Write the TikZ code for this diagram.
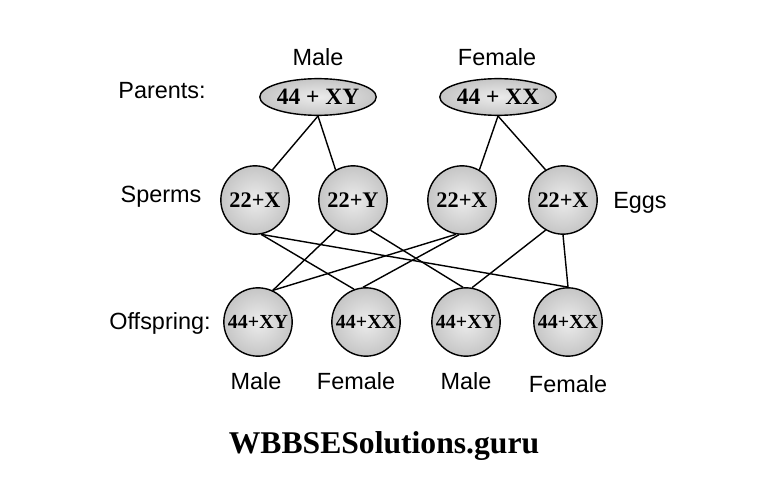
\documentclass[tikz,border=0pt]{standalone}
\usepackage{fontspec}
\setmainfont{Liberation Serif}
\setsansfont{Liberation Sans}
\usetikzlibrary{shapes.geometric}
\tikzset{
  cell/.style={circle,draw,very thick,minimum size=2.05cm,inner sep=0pt,
    inner color=gray!15,outer color=gray!45,font=\bfseries\fontsize{19}{19}\selectfont},
  parent/.style={ellipse,draw,very thick,minimum width=3.3cm,minimum height=1.1cm,inner sep=0pt,
    inner color=gray!15,outer color=gray!45,font=\bfseries\fontsize{20}{20}\selectfont},
  lab/.style={font=\sffamily\fontsize{20}{20}\selectfont},
  link/.style={line width=1.2pt}
}
\begin{document}
\begin{tikzpicture}[x=0.03cm,y=-0.03cm]
\useasboundingbox (0,0) rectangle (768,484);
% parents
\node[parent] (pm) at (318,97) {44 + XY};
\node[parent,minimum width=3.4cm] (pf) at (498,97) {44 + XX};
\node[lab] (tm) at (318,57) {Male};
\node[lab] (tf) at (497,57) {Female};
\node[lab] (tp) at (162,91) {Parents:};
% gametes
\node[cell] (s1) at (255,200) {22+X};
\node[cell] (s2) at (353,200) {22+Y};
\node[cell] (e1) at (462,200) {22+X};
\node[cell] (e2) at (563,200) {22+X};
\node[lab] (ts) at (161,197) {Sperms};
\node[lab] (te) at (640,203) {Eggs};
% offspring
\node[cell,font=\bfseries\fontsize{17}{17}\selectfont] (o1) at (258,322) {44+XY};
\node[cell,font=\bfseries\fontsize{17}{17}\selectfont] (o2) at (366,322) {44+XX};
\node[cell,font=\bfseries\fontsize{17}{17}\selectfont] (o3) at (466,322) {44+XY};
\node[cell,font=\bfseries\fontsize{17}{17}\selectfont] (o4) at (568,322) {44+XX};
\node[lab] (to) at (160,323) {Offspring:};
\node[lab] (b1) at (256,381) {Male};
\node[lab] (b2) at (356,381) {Female};
\node[lab] (b3) at (466,381) {Male};
\node[lab] (b4) at (568,384) {Female};
% links
\draw[link] (pm.south) -- (s1.60);
\draw[link] (pm.south) -- (s2.120);
\draw[link] (pf.south) -- (e1.60);
\draw[link] (pf.south) -- (e2.120);
\draw[link] (s1.-80) -- (o2.110);
\draw[link] (s1.-80) -- (o4.90);
\draw[link] (s2.-120) -- (o1.65);
\draw[link] (s2.-60) -- (o3.95);
\draw[link] (e1.-100) -- (o1.65);
\draw[link] (e1.-95) -- (o2.95);
\draw[link] (e2.-120) -- (o3.80);
\draw[link] (e2.-90) -- (o4.90);
\node[font=\bfseries\fontsize{27}{27}\selectfont] (wm) at (384,446) {WBBSESolutions.guru};
\end{tikzpicture}
\end{document}
